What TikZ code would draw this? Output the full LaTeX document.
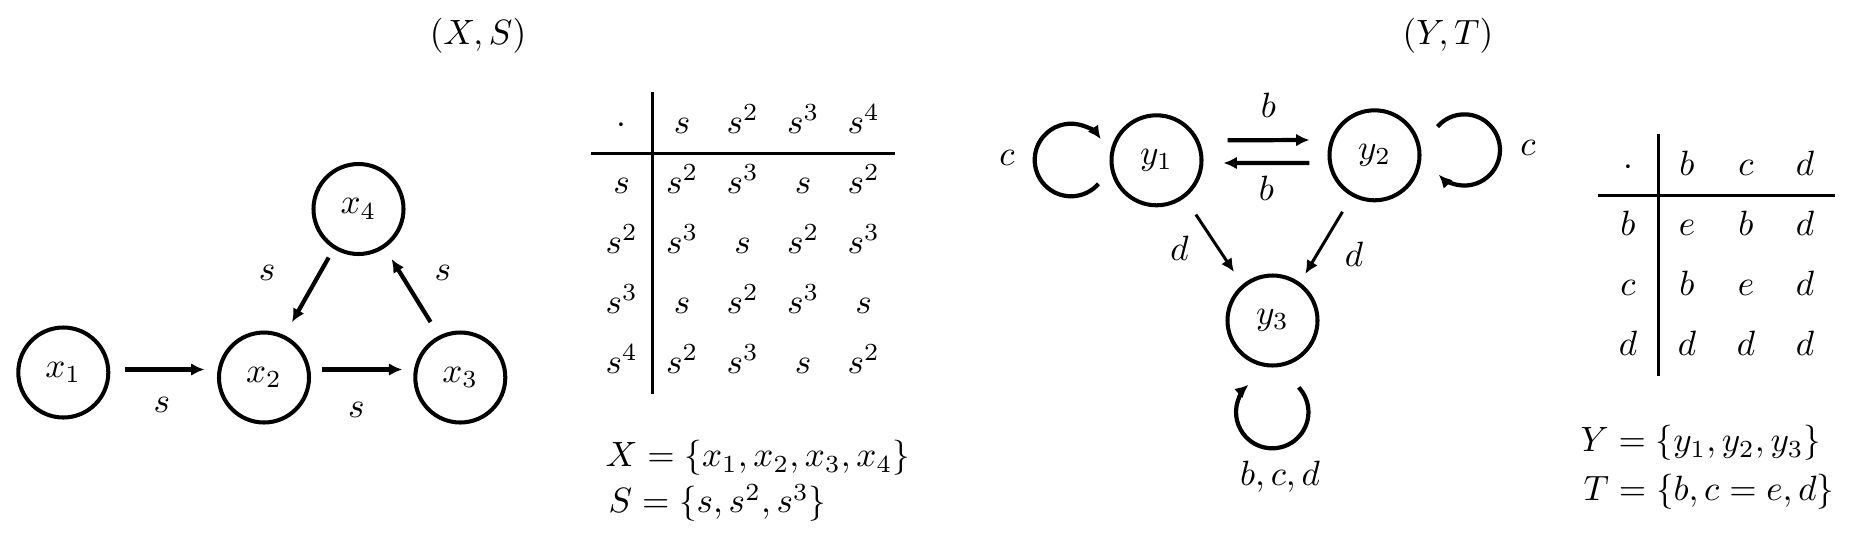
\documentclass[tikz,border=0pt]{standalone}
\usetikzlibrary{arrows.meta, positioning, matrix}

\begin{document}
\begin{tikzpicture}
  [>={Latex[length=3.8pt,width=3.6pt]},
    font=\fontsize{10.2}{12.2}\selectfont,
    on grid]

  \tikzset{
    state/.style={
      circle,
      draw=black, line width=1.15pt,
      minimum size=0.9cm, inner sep=0pt,
    },
    trans/.style={->, draw, line width=1.2pt},
    thin trans/.style={->, draw, line width=0.85pt},
    loopy/.style={->, draw, line width=1.2pt},
    lbl/.style={inner sep=0pt},
    tbl/.style={
      matrix of math nodes,
      column sep=0pt, row sep=0pt, inner sep=0pt,
      nodes={inner sep=0pt, minimum height=0.6cm,
        text height=1.6ex, text depth=0.25ex, anchor=center},
    },
    rule/.style={draw, line width=0.75pt},
  }

  \useasboundingbox (0,0) rectangle (18.65,-5.45);

  % (X,S)
  \node (tXS) at (4.78,-0.36) {$(X,S)$};

  \node[state] (x1) at (0.633,-3.725) {$x_1$};
  \node[state, below right=0.05cm and 2.007cm of x1] (x2) {$x_2$};
  \node[state, right=1.963cm of x2] (x3) {$x_3$};
  \node[state, above right=1.685cm and 0.945cm of x2] (x4) {$x_4$};

  \draw[trans] ([shift={(0.15,0.03)}]x1.east) --
    node[lbl, xshift=-0.3mm, yshift=-3.5mm] (s12) {$s$}
    ([shift={(-0.125,0.08)}]x2.west);
  \draw[trans] ([shift={(0.112,0.08)}]x2.east) --
    node[lbl, xshift=-0.6mm, yshift=-4mm] (s23) {$s$}
    ([shift={(-0.11,0.08)}]x3.west);
  \draw[trans, shorten <=0.1cm, shorten >=0.15cm] (x4.238) --
    node[lbl, xshift=-4.2mm, yshift=1.9mm] (s42) {$s$} (x2.64);
  \draw[trans, shorten <=0.16cm, shorten >=0.13cm] (x3.117) --
    node[lbl, xshift=3.1mm, yshift=1.9mm] (s34) {$s$} (x4.304);

  \matrix[tbl, nodes={minimum width=0.605cm}] (mS) at (7.427,-2.43) {
    \cdot & s   & s^2 & s^3 & s^4 \\
    s     & s^2 & s^3 & s   & s^2 \\
    s^2   & s^3 & s   & s^2 & s^3 \\
    s^3   & s   & s^2 & s^3 & s   \\
    s^4   & s^2 & s^3 & s   & s^2 \\
  };
  \draw[rule] (mS-1-1.north east) -- (mS-5-1.south east);
  \draw[rule] (mS-1-1.south west) -- (mS-1-5.south east);

  \node[lbl, anchor=west] (setX) at (6.05,-4.58) {$X = \{x_1, x_2, x_3, x_4\}$};
  \node[lbl, anchor=west] (setS) at (6.08,-5.03) {$S = \{s, s^2, s^3\}$};

  % (Y,T)
  \node (tYT) at (14.48,-0.36) {$(Y,T)$};

  \node[state] (y1) at (11.565,-1.603) {$y_1$};
  \node[state, above right=0.05cm and 2.18cm of y1] (y2) {$y_2$};
  \node[state, below right=1.602cm and 1.16cm of y1] (y3) {$y_3$};

  \draw[trans] ([shift={(0.24,0.2)}]y1.east) --
    node[lbl, yshift=3.5mm] (b12) {$b$}
    ([shift={(-0.18,0.153)}]y2.west);
  \draw[trans] ([shift={(-0.18,-0.077)}]y2.west) --
    node[lbl, yshift=-2.5mm] (b21) {$b$}
    ([shift={(0.2,-0.027)}]y1.east);
  \draw[thin trans, shorten <=0.2cm, shorten >=0.15cm] (y1.307) --
    node[lbl, xshift=-3.4mm, yshift=-0.7mm] (d13) {$d$} (y3.130);
  \draw[thin trans, shorten <=0.18cm, shorten >=0.1cm] (y2.241) --
    node[lbl, xshift=2.8mm, yshift=-1.5mm] (d23) {$d$} (y3.54);

  % boucles
  \draw[loopy] ([shift={(-0.581,-0.235)}]y1.center)
    arc[start angle=-41, end angle=-325, radius=0.363cm];
  \node[lbl, left=1.495cm of y1, yshift=0.2mm] (c1) {$c$};
  \draw[loopy] ([shift={(0.63,0.287)}]y2.center)
    arc[start angle=139, end angle=-136, radius=0.356cm];
  \node[lbl, right=1.535cm of y2, yshift=0.7mm] (c2) {$c$};
  \draw[loopy] ([shift={(0.262,-0.669)}]y3.center)
    arc[start angle=43, end angle=-229, radius=0.362cm];
  \node[lbl, below=1.565cm of y3, xshift=0.75mm] (bcd3) {$b,c,d$};

  \matrix[tbl, nodes={minimum width=0.59cm}] (mT) at (17.165,-2.55) {
    \cdot & b & c & d \\
    b     & e & b & d \\
    c     & b & e & d \\
    d     & d & d & d \\
  };
  \draw[rule] (mT-1-1.north east) -- (mT-4-1.south east);
  \draw[rule] (mT-1-1.south west) -- (mT-1-4.south east);

  \node[lbl, anchor=west] (setY) at (15.80,-4.43) {$Y = \{y_1, y_2, y_3\}$};
  \node[lbl, anchor=west] (setT) at (15.83,-4.92) {$T = \{b, c = e, d\}$};
\end{tikzpicture}
\end{document}
